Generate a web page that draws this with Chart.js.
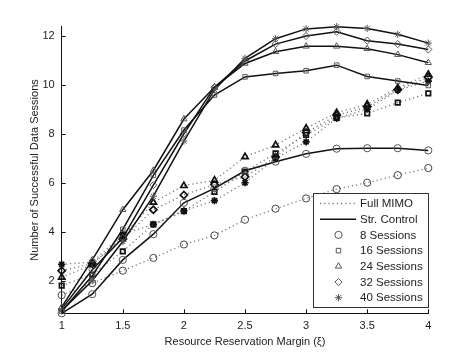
<!DOCTYPE html>
<html>
<head>
<meta charset="utf-8">
<script src="https://cdn.jsdelivr.net/npm/chart.js@4.4.1/dist/chart.umd.min.js"></script>
<style>
  html, body { margin: 0; padding: 0; background: #fff; }
  #wrap { width: 474px; height: 355px; position: relative; }
</style>
</head>
<body>
<div id="wrap"><canvas id="c" width="474" height="355"></canvas></div>
<script>
// ---- data ----
const xValues = [1, 1.25, 1.5, 1.75, 2, 2.25, 2.5, 2.75, 3, 3.25, 3.5, 3.75, 4];
const xTickValues = [1, 1.5, 2, 2.5, 3, 3.5, 4];
const xTickLabels = ['1', '1.5', '2', '2.5', '3', '3.5', '4'];
const yTickValues = [2, 4, 6, 8, 10, 12];
const yTickLabels = ['2', '4', '6', '8', '10', '12'];
const sessionLabels = ['8 Sessions', '16 Sessions', '24 Sessions', '32 Sessions', '40 Sessions'];
const schemeLabels = ['Full MIMO', 'Str. Control'];

const strControl8  = [0.67, 1.45, 2.85, 3.90, 5.18, 5.77, 6.49, 6.86, 7.18, 7.39, 7.41, 7.41, 7.32];
const strControl16 = [0.75, 2.20, 4.10, 6.30, 8.15, 9.58, 10.32, 10.46, 10.57, 10.80, 10.34, 10.15, 9.97];
const strControl24 = [0.92, 2.85, 4.90, 6.50, 8.60, 9.90, 10.87, 11.35, 11.57, 11.57, 11.47, 11.23, 10.90];
const strControl32 = [0.85, 2.45, 3.75, 5.90, 8.00, 9.90, 10.97, 11.66, 11.99, 12.16, 11.80, 11.66, 11.44];
const strControl40 = [0.78, 2.00, 3.60, 5.45, 7.70, 9.80, 11.08, 11.88, 12.28, 12.37, 12.30, 12.06, 11.70];

const fullMimo8  = [1.41, 1.90, 2.41, 2.93, 3.48, 3.85, 4.49, 4.94, 5.36, 5.74, 6.00, 6.31, 6.60];
const fullMimo16 = [1.80, 2.25, 3.20, 4.30, 4.84, 5.63, 6.45, 7.20, 7.95, 8.65, 8.83, 9.27, 9.65];
const fullMimo24 = [2.14, 2.65, 3.80, 5.20, 5.88, 6.10, 7.06, 7.54, 8.22, 8.86, 9.20, 9.87, 10.42];
const fullMimo32 = [2.41, 2.70, 3.70, 4.90, 5.50, 5.93, 6.24, 7.05, 8.05, 8.75, 9.10, 9.80, 10.30];
const fullMimo40 = [2.67, 2.75, 3.90, 4.30, 4.85, 5.27, 6.00, 7.00, 7.67, 8.63, 9.00, 9.78, 10.15];

const Y_MIN = 0.67, Y_MAX = 12.37;

// ---- build ----
const markerStyles = ['circle', 'rect', 'triangle', 'rectRot', 'star'];
const strSeries = [strControl8, strControl16, strControl24, strControl32, strControl40];
const mimoSeries = [fullMimo8, fullMimo16, fullMimo24, fullMimo32, fullMimo40];
const toPts = arr => arr.map((v, i) => ({ x: xValues[i], y: v }));

const datasets = [];
strSeries.forEach((s, i) => {
  datasets.push({
    label: schemeLabels[1] + ' ' + sessionLabels[i],
    data: toPts(s),
    borderColor: '#111',
    borderWidth: 1.5,
    pointStyle: markerStyles[i],
    pointRadius: markerStyles[i] === 'rect' ? 3.2 : 3.6,
    pointBorderColor: '#555',
    pointBackgroundColor: 'rgba(0,0,0,0)',
    pointBorderWidth: 1,
    tension: 0,
    clip: false
  });
});
mimoSeries.forEach((s, i) => {
  datasets.push({
    label: schemeLabels[0] + ' ' + sessionLabels[i],
    data: toPts(s),
    borderColor: '#777',
    borderWidth: 1.3,
    borderDash: [1.2, 3],
    pointStyle: markerStyles[i],
    pointRadius: markerStyles[i] === 'rect' ? 3.2 : 3.6,
    pointBorderColor: i === 0 ? '#444' : '#111',
    pointBackgroundColor: 'rgba(0,0,0,0)',
    pointBorderWidth: i === 0 ? 1 : 1.7,
    tension: 0,
    clip: false
  });
});

const FONT = '"Liberation Sans", Arial, Helvetica, sans-serif';

const tickPlugin = {
  id: 'inwardTicks',
  afterDatasetsDraw(chart) {
    const { ctx, chartArea, scales } = chart;
    ctx.save();
    ctx.strokeStyle = '#111';
    ctx.lineWidth = 1;
    ctx.beginPath();
    yTickValues.forEach(v => {
      const py = Math.round(scales.y.getPixelForValue(v)) + 0.5;
      ctx.moveTo(chartArea.left, py);
      ctx.lineTo(chartArea.left + 4, py);
    });
    xTickValues.forEach(v => {
      const px = Math.round(scales.x.getPixelForValue(v)) + 0.5;
      ctx.moveTo(px, chartArea.bottom);
      ctx.lineTo(px, chartArea.bottom - 4);
    });
    ctx.stroke();

    // legend box
    const lx = 313.5, ly = 193.5, lw = 115, lh = 114;
    ctx.fillStyle = '#fff';
    ctx.fillRect(lx, ly, lw, lh);
    ctx.strokeStyle = '#333';
    ctx.lineWidth = 1;
    ctx.strokeRect(lx, ly, lw, lh);

    const rowY0 = 203.5, rowStep = 15.7;
    const textX = 360;
    ctx.font = '11.5px ' + FONT;
    ctx.fillStyle = '#222';
    ctx.textBaseline = 'middle';
    ctx.textAlign = 'left';
    const labels = schemeLabels.concat(sessionLabels);
    labels.forEach((t, i) => {
      const y = rowY0 + i * rowStep;
      ctx.fillText(t, textX, y + 0.5);
      if (i === 0) {
        ctx.save();
        ctx.strokeStyle = '#777';
        ctx.lineWidth = 1.3;
        ctx.setLineDash([1.2, 3]);
        ctx.beginPath(); ctx.moveTo(320, y); ctx.lineTo(356, y); ctx.stroke();
        ctx.restore();
      } else if (i === 1) {
        ctx.save();
        ctx.strokeStyle = '#111';
        ctx.lineWidth = 1.5;
        ctx.beginPath(); ctx.moveTo(320, y); ctx.lineTo(356, y); ctx.stroke();
        ctx.restore();
      } else {
        const st = markerStyles[i - 2];
        ctx.save();
        ctx.strokeStyle = '#555';
        ctx.fillStyle = 'rgba(0,0,0,0)';
        ctx.lineWidth = 1;
        Chart.helpers.drawPoint(ctx, { pointStyle: st, radius: st === 'rect' ? 3.2 : 3.6, borderWidth: 1, rotation: 0 }, 338.5, y);
        ctx.restore();
      }
    });
    ctx.restore();
  }
};

new Chart(document.getElementById('c'), {
  type: 'line',
  data: { datasets },
  plugins: [tickPlugin],
  options: {
    responsive: false,
    animation: false,
    events: [],
    layout: { padding: { top: 26.7, right: 45.7, bottom: 0, left: 0 } },
    plugins: { legend: { display: false }, tooltip: { enabled: false } },
    scales: {
      x: {
        type: 'linear',
        min: 1, max: 4,
        afterBuildTicks: s => { s.ticks = xTickValues.map(v => ({ value: v })); },
        afterFit: s => { s.height = 41.7; },
        ticks: {
          callback: (v) => { const k = xTickValues.indexOf(v); return k >= 0 ? xTickLabels[k] : ''; },
          color: '#222', font: { family: FONT, size: 11 }, padding: 6, maxRotation: 0, autoSkip: false
        },
        grid: { display: false, drawTicks: false },
        border: { display: true, color: '#111', width: 1 },
        title: { display: true, text: 'Resource Reservation Margin (ξ)', color: '#222',
                 font: { family: FONT, size: 11 }, padding: { top: 0, bottom: 6.6 } }
      },
      y: {
        type: 'linear',
        min: Y_MIN, max: Y_MAX,
        afterBuildTicks: s => { s.ticks = yTickValues.map(v => ({ value: v })); },
        afterFit: s => { s.width = 61.7; },
        ticks: {
          callback: (v) => { const k = yTickValues.indexOf(v); return k >= 0 ? yTickLabels[k] : ''; },
          color: '#222', font: { family: FONT, size: 11 }, padding: 7, autoSkip: false
        },
        grid: { display: false, drawTicks: false },
        border: { display: true, color: '#111', width: 1 },
        title: { display: true, text: 'Number of Successful Data Sessions', color: '#222',
                 font: { family: FONT, size: 11 }, padding: { top: 28.4, bottom: 0 } }
      }
    }
  }
});
</script>
</body>
</html>
